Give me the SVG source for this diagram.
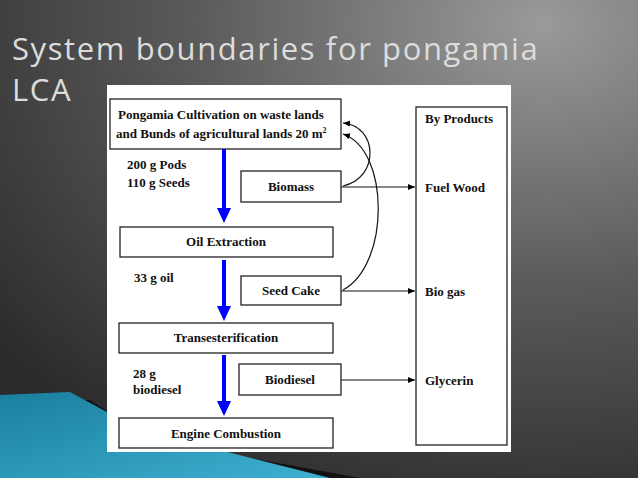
<svg xmlns="http://www.w3.org/2000/svg" width="638" height="478" viewBox="0 0 638 478">
<defs>
<radialGradient id="bg" cx="0.85" cy="0.05" r="1.1">
<stop offset="0" stop-color="#9a9a9a"/><stop offset="0.5" stop-color="#5a5a5a"/><stop offset="1" stop-color="#2a2a2a"/>
</radialGradient>
<linearGradient id="teal" x1="0" y1="0" x2="1" y2="1"><stop offset="0" stop-color="#1a7f9f"/><stop offset="1" stop-color="#3fb0d0"/></linearGradient>
<marker id="ah" markerWidth="8" markerHeight="8" refX="7" refY="4" orient="auto" markerUnits="userSpaceOnUse"><path d="M0,1 L7,4 L0,7 z" fill="#000"/></marker>
<style>
.b{fill:#fff;stroke:#222;stroke-width:1.3}
.t{font-family:"Liberation Serif",serif;font-weight:bold;font-size:13px;fill:#111}
.c{stroke:#111;stroke-width:1.2;fill:none}
.blue{stroke:#0000ff;stroke-width:4;fill:none}
</style>
</defs>
<rect width="638" height="478" fill="url(#bg)"/>
<path d="M0,400 L90,400 L150,440 L360,478 L0,478 z" fill="#111"/>
<path d="M0,395 L70,392 L140,430 L330,478 L0,478 z" fill="url(#teal)"/>
<text x="12" y="60" font-family="Open Sans,sans-serif" font-size="31" letter-spacing="1.6" fill="#dcdcdc">System boundaries for pongamia</text>
<text x="12" y="101" font-family="Open Sans,sans-serif" font-size="31" letter-spacing="1.6" fill="#dcdcdc">LCA</text>
<rect x="107" y="85" width="404" height="367" fill="#fff"/>
<g id="n1"><rect class="b" x="110" y="99" width="231" height="50"/><text class="t" x="118" y="119" font-size="12.5">Pongamia Cultivation on waste lands</text><text class="t" x="116" y="138" font-size="12.5">and Bunds of agricultural lands 20 m<tspan font-size="8" dy="-5">2</tspan></text></g>
<g id="n2"><rect class="b" x="241" y="171" width="100" height="31"/><text class="t" x="291" y="191" text-anchor="middle">Biomass</text></g>
<g id="n3"><rect class="b" x="120" y="227" width="213" height="30"/><text class="t" x="226" y="246" text-anchor="middle">Oil Extraction</text></g>
<g id="n4"><rect class="b" x="241" y="276" width="100" height="29"/><text class="t" x="291" y="295" text-anchor="middle">Seed Cake</text></g>
<g id="n5"><rect class="b" x="119" y="323" width="214" height="30"/><text class="t" x="226" y="342" text-anchor="middle">Transesterification</text></g>
<g id="n6"><rect class="b" x="239" y="364" width="102" height="31"/><text class="t" x="290" y="384" text-anchor="middle">Biodiesel</text></g>
<g id="n7"><rect class="b" x="119" y="418" width="214" height="30"/><text class="t" x="226" y="438" text-anchor="middle">Engine Combustion</text></g>
<g id="n8"><rect class="b" x="416" y="107" width="91" height="338"/><text class="t" x="425" y="123">By Products</text><text class="t" x="425" y="192">Fuel Wood</text><text class="t" x="425" y="296">Bio gas</text><text class="t" x="425" y="385">Glycerin</text></g>
<g id="labels"><text class="t" x="127" y="169">200 g Pods</text><text class="t" x="127" y="187">110 g Seeds</text><text class="t" x="134" y="282">33 g oil</text><text class="t" x="133" y="378">28 g</text><text class="t" x="133" y="394">biodiesel</text></g>
<g id="connectors">
<line class="blue" x1="224" y1="149" x2="224" y2="209"/><path d="M217,208 L231,208 L224,223 z" fill="#0000ff"/>
<line class="blue" x1="224" y1="260" x2="224" y2="307"/><path d="M217,306 L231,306 L224,321 z" fill="#0000ff"/>
<line class="blue" x1="224" y1="355" x2="224" y2="402"/><path d="M217,401 L231,401 L224,416 z" fill="#0000ff"/>
<line class="c" x1="341" y1="187" x2="415" y2="187" marker-end="url(#ah)"/>
<line class="c" x1="341" y1="291" x2="415" y2="291" marker-end="url(#ah)"/>
<line class="c" x1="341" y1="380" x2="415" y2="380" marker-end="url(#ah)"/>
<path class="c" d="M343,186 C380,178 378,126 343,123" marker-end="url(#ah)"/>
<path class="c" d="M343,290 C390,265 390,150 343,134" marker-end="url(#ah)"/>
</g>
</svg>
